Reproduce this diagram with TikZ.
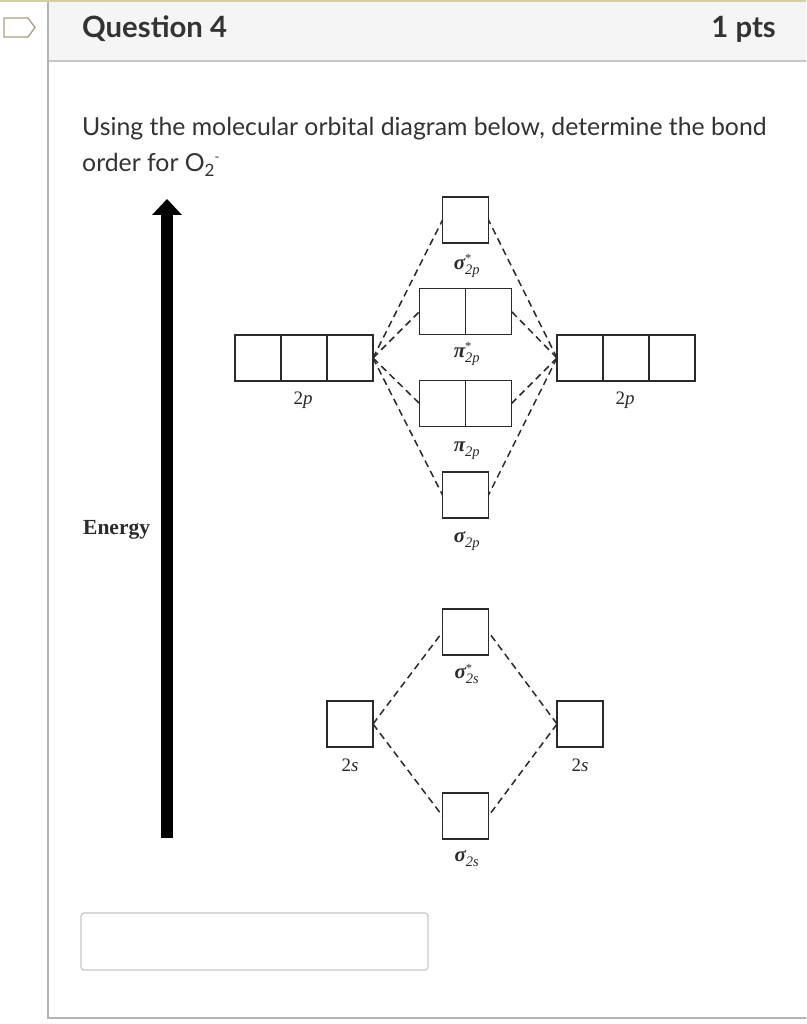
\documentclass[tikz,border=0pt]{standalone}
\usepackage{fontspec}
\setmainfont{Liberation Serif}
\newfontfamily\lato{Lato}
\definecolor{diag}{HTML}{2A2A2A}
\definecolor{hdrbg}{HTML}{F5F5F5}
\definecolor{hdrline}{HTML}{C7C7C7}
\definecolor{frameln}{HTML}{B4B4B4}
\definecolor{topln}{HTML}{D6CFA3}
\definecolor{txt}{HTML}{333333}
\definecolor{iconln}{HTML}{A8A08A}
\newcommand{\orblab}[3]{{\bfseries\itshape\fontsize{21}{23}\selectfont #1}$^{\mbox{\fontsize{12.5}{12.5}\selectfont #2}}_{\mbox{\fontsize{14.5}{14.5}\selectfont\itshape #3}}$}
\begin{document}
\begin{tikzpicture}[x=1pt,y=-1pt,
  orb/.style={draw=diag, line width=1.7pt, minimum width=46pt, minimum height=46pt, inner sep=0pt, outer sep=0pt},
  corr/.style={draw=diag, line width=1.5pt, dash pattern=on 7pt off 4.5pt},
  lab/.style={font=\fontsize{19}{21}\selectfont, text=diag, inner sep=0pt},
  hdr/.style={font=\lato\bfseries\fontsize{29.3}{32}\selectfont, text=txt, inner sep=0pt, anchor=base west},
  body/.style={font=\lato\fontsize{24.8}{28}\selectfont, text=txt, inner sep=0pt, anchor=base west}]
\path[use as bounding box] (0,0) rectangle (806,1024);
\fill[white] (0,0) rectangle (806,1024);
% header
\fill[hdrbg] (48,2) rectangle (806,61);
\draw[topln, line width=2pt] (0,1) -- (806,1);
\draw[hdrline, line width=1.2pt] (48,61) -- (806,61);
\draw[frameln, line width=1.2pt] (48,2) -- (48,1018) -- (806,1018);
\draw[iconln, line width=1.3pt, fill=white] (4,18) -- (28,18) -- (35,27.5) -- (28,37) -- (4,37) -- cycle;
\node[hdr] (qtitle) at (82,37.5) {Question 4};
\node[hdr, anchor=base east] (pts) at (776,37.5) {1 pts};
% question text
\node[body] (line1) at (82,136) {Using the molecular orbital diagram below, determine the bond};
\node[body] (line2) at (82,172) {order for O\raisebox{-4.5pt}{\fontsize{17}{17}\selectfont 2}\raisebox{10pt}{\fontsize{13}{13}\selectfont -}};
% answer box
\draw[hdrline, line width=1.2pt, rounded corners=3pt] (81,913) rectangle (428,970);
% energy arrow
\fill[black] (161,213) rectangle (173,838);
\fill[black] (152,215) -- (167,199) -- (182,215) -- cycle;
\node[font=\bfseries\fontsize{21.5}{23}\selectfont, text=diag, inner sep=0pt, anchor=base west] (energy) at (83,534) {Energy};
% 2p level
\node[orb] (sigsp) at (465.5,220) {};
\node[orb] (pisa) at (442.5,311.5) {};
\node[orb] (pisb) at (488.5,311.5) {};
\node[orb] (lpa) at (258,358) {};
\node[orb] (lpb) at (304,358) {};
\node[orb] (lpc) at (350,358) {};
\node[orb] (rpa) at (580,358) {};
\node[orb] (rpb) at (626,358) {};
\node[orb] (rpc) at (672,358) {};
\node[orb] (pia) at (442.5,403.5) {};
\node[orb] (pib) at (488.5,403.5) {};
\node[orb] (sigp) at (465.5,495) {};
% 2s level
\node[orb] (sigss) at (465.5,632) {};
\node[orb] (ls) at (350,724) {};
\node[orb] (rs) at (580,724) {};
\node[orb] (sigs) at (465.5,816) {};
% labels
\node[lab] (lsigsp) at (467,266) {\orblab{σ}{*}{2p}};
\node[lab] (lpis) at (467,354) {\orblab{π}{*}{2p}};
\node[lab] (llp) at (303,400) {2\itshape p};
\node[lab] (lrp) at (625,400) {2\itshape p};
\node[lab] (lpi) at (467,451) {\orblab{π}{}{2p}};
\node[lab] (lsigp) at (467,541) {\orblab{σ}{}{2p}};
\node[lab] (lsigss) at (467,674) {\orblab{σ}{*}{2s}};
\node[lab] (lls) at (350,765) {2\itshape s};
\node[lab] (lrs) at (580,765) {2\itshape s};
\node[lab] (lsigs) at (467,859) {\orblab{σ}{}{2s}};
% correlation lines
\draw[corr] (lpc.east) -- (sigsp.west);
\draw[corr] (lpc.east) -- (pisa.west);
\draw[corr] (lpc.east) -- (pia.west);
\draw[corr] (lpc.east) -- (sigp.west);
\draw[corr] (rpa.west) -- (sigsp.east);
\draw[corr] (rpa.west) -- (pisb.east);
\draw[corr] (rpa.west) -- (pib.east);
\draw[corr] (rpa.west) -- (sigp.east);
\draw[corr] (ls.east) -- (sigss.west);
\draw[corr] (ls.east) -- (sigs.west);
\draw[corr] (rs.west) -- (sigss.east);
\draw[corr] (rs.west) -- (sigs.east);
\end{tikzpicture}
\end{document}
